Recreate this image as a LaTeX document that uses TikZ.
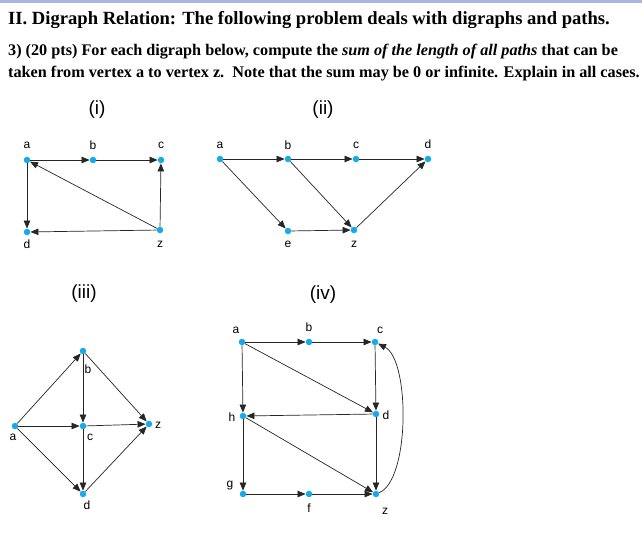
\documentclass[tikz,border=0pt]{standalone}
\usepackage{fontspec}
\setmainfont{Liberation Serif}
\newfontfamily\lab{Liberation Sans}
\usetikzlibrary{arrows.meta}
\definecolor{vcol}{RGB}{20,170,235}
\begin{document}
\begin{tikzpicture}[x=1pt,y=-1pt,
  v/.style={circle,fill=vcol,inner sep=0pt,minimum size=6.5pt},
  lb/.style={font=\lab\fontsize{12}{12}\selectfont,inner sep=0pt},
  ttl/.style={font=\lab\fontsize{19}{19}\selectfont,inner sep=0pt},
  e/.style={draw=black!85,line width=0.7pt,-{Triangle[length=8pt,width=6.5pt]},shorten >=0pt}]
\useasboundingbox (0,0) rectangle (642,554);
\fill[white] (0,0) rectangle (642,554);
\fill[cyan!40!blue!35] (0,0) rectangle (642,3);
\node[anchor=west,inner sep=0pt,font=\bfseries\fontsize{18.6}{18.6}\selectfont] (h1) at (8,20) {II. Digraph Relation: The following problem deals with digraphs and paths.};
\node[anchor=west,inner sep=0pt,font=\bfseries\fontsize{16.2}{16.2}\selectfont] (h2) at (8,52) {3) (20 pts) For each digraph below, compute the \textit{sum of the length of all paths} that can be};
\node[anchor=west,inner sep=0pt,font=\bfseries\fontsize{16.2}{16.2}\selectfont] (h3) at (8,74) {taken from vertex a to vertex z.\ \ Note that the sum may be 0 or infinite. Explain in all cases.};
% (i)
\node[ttl] (t1) at (97,110) {(i)};
\node[v] (1a) at (27,160) {}; \node[v] (1b) at (93,160) {}; \node[v] (1c) at (161,160) {};
\node[v] (1d) at (27,232) {}; \node[v] (1z) at (160,230) {};
\node[lb] (l1a) at (27,145) {a}; \node[lb] (l1b) at (93,145) {b}; \node[lb] (l1c) at (161,145) {c};
\node[lb] (l1d) at (27,244) {d}; \node[lb] (l1z) at (160,244) {z};
\draw[e] (1a)--(1b); \draw[e] (1b)--(1c); \draw[e] (1z)--(1c); \draw[e] (1z)--(1a);
\draw[e] (1a)--(1d); \draw[e] (1z)--(1d);
% (ii)
\node[ttl] (t2) at (323,110) {(ii)};
\node[v] (2a) at (220,159) {}; \node[v] (2b) at (288,159) {}; \node[v] (2c) at (356,159) {};
\node[v] (2d) at (428,159) {}; \node[v] (2e) at (288,231) {}; \node[v] (2z) at (354,230) {};
\node[lb] (l2a) at (220,145) {a}; \node[lb] (l2b) at (288,145) {b}; \node[lb] (l2c) at (356,145) {c};
\node[lb] (l2d) at (428,144) {d}; \node[lb] (l2e) at (288,244) {e}; \node[lb] (l2z) at (354,244) {z};
\draw[e] (2a)--(2b); \draw[e] (2b)--(2c); \draw[e] (2c)--(2d); \draw[e] (2a)--(2e);
\draw[e] (2e)--(2z); \draw[e] (2b)--(2z); \draw[e] (2z)--(2d);
% (iii)
\node[ttl] (t3) at (84,294) {(iii)};
\node[v] (3b) at (83,351) {}; \node[v] (3a) at (15,426) {}; \node[v] (3c) at (83,426) {};
\node[v] (3z) at (149,424) {}; \node[v] (3d) at (83,494) {};
\node[lb] (l3b) at (88,369) {b}; \node[lb] (l3a) at (13,437) {a}; \node[lb] (l3c) at (90,437) {c};
\node[lb] (l3z) at (158,425) {z}; \node[lb] (l3d) at (87,505) {d};
\draw[e] (3a)--(3b); \draw[e] (3a)--(3c); \draw[e] (3a)--(3d); \draw[e] (3b)--(3c);
\draw[e] (3b)--(3z); \draw[e] (3c)--(3z); \draw[e] (3c)--(3d); \draw[e] (3d)--(3z);
% (iv)
\node[ttl] (t4) at (323,295) {(iv)};
\node[v] (4a) at (242,342) {}; \node[v] (4b) at (309,342) {}; \node[v] (4c) at (375,342) {};
\node[v] (4d) at (376,414) {}; \node[v] (4h) at (243,416) {}; \node[v] (4g) at (243,494) {};
\node[v] (4f) at (309,494) {}; \node[v] (4z) at (376,494) {};
\node[lb] (l4a) at (236,330) {a}; \node[lb] (l4b) at (309,327) {b}; \node[lb] (l4c) at (380,330) {c};
\node[lb] (l4h) at (232,417) {h}; \node[lb] (l4d) at (386,415) {d}; \node[lb] (l4g) at (230,486) {g};
\node[lb] (l4f) at (309,508) {f}; \node[lb] (l4z) at (385,511) {z};
\draw[e] (4a)--(4b); \draw[e] (4b)--(4c); \draw[e] (4a)--(4h); \draw[e] (4a)--(4d);
\draw[e] (4c)--(4d); \draw[e] (4d)--(4h); \draw[e] (4d)--(4z); \draw[e] (4h)--(4g);
\draw[e] (4h)--(4z); \draw[e] (4g)--(4f); \draw[e] (4f)--(4z);
\draw[e] (4z) .. controls (410,480) and (410,360) .. (4c);
\end{tikzpicture}
\end{document}
